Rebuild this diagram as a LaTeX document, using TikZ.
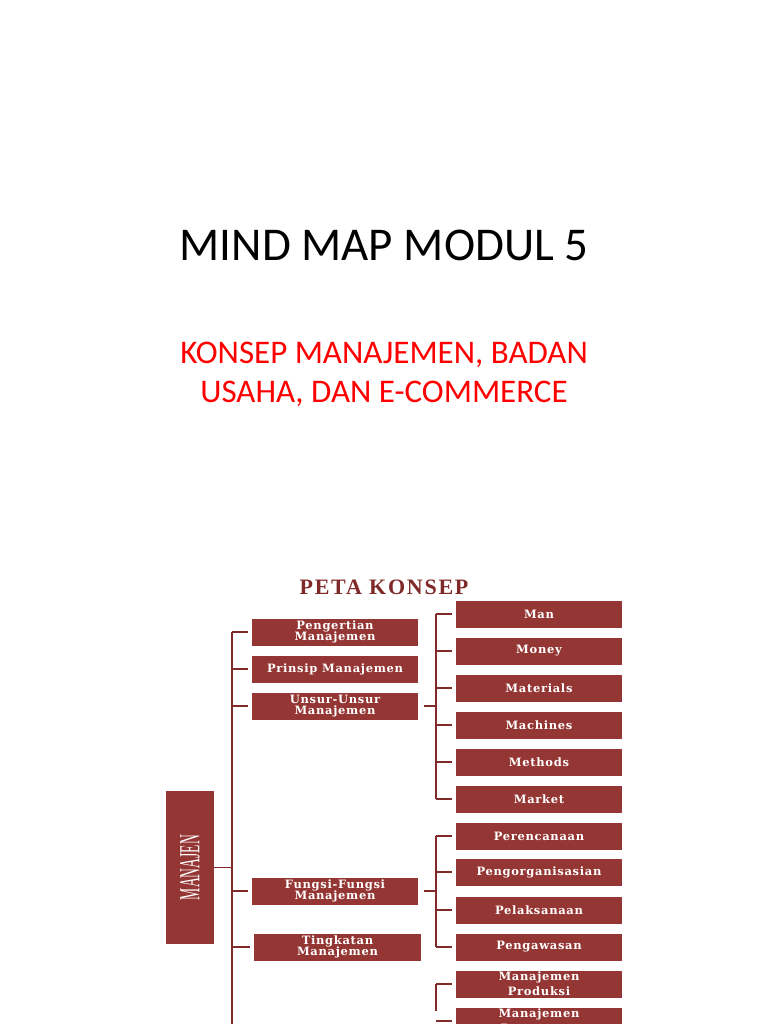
\documentclass[tikz,border=0pt]{standalone}
\usepackage{fontspec}
\setmainfont{Liberation Serif}
\newfontfamily\titlefont{Carlito}
\newfontfamily\boxfont[LetterSpace=6]{DejaVu Serif}
\usetikzlibrary{positioning}
\definecolor{boxred}{HTML}{943634}
\definecolor{linered}{HTML}{7F2A28}
\tikzset{
 kbox/.style
  = {rectangle, fill=boxred, text=white, font=\boxfont\bfseries\fontsize{11.5}{11.5}\selectfont,
     align=center, inner sep=0pt, minimum height=27pt},
 lone/.style
  = {kbox, minimum width=166pt},
 ltwo/.style
  = {kbox, minimum width=166pt},
 conn/.style
  = {draw=linered, line width=1.6pt}
}
\begin{document}
\begin{tikzpicture}[x=1pt,y=-1pt]
    \useasboundingbox (0,0) rectangle (768,1024);
    \clip (0,0) rectangle (768,1024);
    % titles
    \node [font=\titlefont\fontsize{47}{50}\selectfont] (title) at (384,245) {MIND MAP MODUL 5};
    \node [font=\titlefont\fontsize{33}{39}\selectfont, text=red, align=center] (subtitle) at (384,374)
      {KONSEP MANAJEMEN, BADAN\\USAHA, DAN E-COMMERCE};
    \node [font=\bfseries\addfontfeature{LetterSpace=8}\fontsize{22}{22}\selectfont, text=linered] (peta) at (384,587) {PETA KONSEP};

    % root
    \node [kbox, minimum width=48pt, minimum height=153pt] (root) at (190,867.5) {};
    \node [rotate=90, text=white, font=\fontsize{29}{29}\selectfont\addfontfeature{FakeStretch=0.47}] (rootlabel) at (root) {MANAJEN};

    % first level
    \node [lone] (pengertian) at (335,632) {Pengertian\\Manajemen};
    \node [lone] (prinsip) at (335,669) {Prinsip Manajemen};
    \node [lone] (unsur) at (335,706) {Unsur-Unsur\\Manajemen};
    \node [lone] (fungsi) at (335,891) {Fungsi-Fungsi\\Manajemen};
    \node [lone, minimum width=167pt] (tingkatan) at (337.5,947) {Tingkatan\\Manajemen};

    % second level
    \node [ltwo] (man) at (539,614) {Man};
    \node [ltwo] (money) at (539,651) {Money};
    \node [ltwo] (materials) at (539,688) {Materials};
    \node [ltwo] (machines) at (539,725) {Machines};
    \node [ltwo] (methods) at (539,762) {Methods};
    \node [ltwo] (market) at (539,799) {Market};
    \node [ltwo] (perencanaan) at (539,836) {Perencanaan};
    \node [ltwo] (organisasi) at (539,872) {Pengorganisasian};
    \node [ltwo] (pelaksanaan) at (539,910) {Pelaksanaan};
    \node [ltwo] (pengawasan) at (539,947) {Pengawasan};
    \node [ltwo, font=\boxfont\bfseries\fontsize{11.5}{15}\selectfont] (produksi) at (539,984) {Manajemen\\Produksi};
    \node [ltwo, font=\boxfont\bfseries\fontsize{11.5}{15}\selectfont] (manlain) at (539,1021) {Manajemen\\Pemasaran};

    % trunk
    \coordinate (trunktop) at (232,632);
    \coordinate (trunkend) at (232,1030);
    \path [conn] (trunktop) -- (trunkend);
    \path [conn] (root.east) -- (root.east -| trunktop);
    \foreach \n in {pengertian,prinsip,unsur,fungsi,tingkatan}
      \path [conn] (\n.west -| trunktop) -- ([xshift=-4pt]\n.west);

    % brackets
    \coordinate (bx) at (436,0);
    \path [conn] (man.west -| bx) -- (market.west -| bx);
    \path [conn] ([xshift=6pt]unsur.east) -- (unsur.east -| bx);
    \foreach \n in {man,money,materials,machines,methods,market}
      \path [conn] (\n.west -| bx) -- ([xshift=-4pt]\n.west);
    \path [conn] (perencanaan.west -| bx) -- (pengawasan.west -| bx);
    \path [conn] ([xshift=6pt]fungsi.east) -- (fungsi.east -| bx);
    \foreach \n in {perencanaan,organisasi,pelaksanaan,pengawasan}
      \path [conn] (\n.west -| bx) -- ([xshift=-4pt]\n.west);
    \path [conn] (produksi.west -| bx) -- ([yshift=10pt]manlain.west -| bx);
    \foreach \n in {produksi,manlain}
      \path [conn] (\n.west -| bx) -- ([xshift=-4pt]\n.west);
\end{tikzpicture}
\end{document}
